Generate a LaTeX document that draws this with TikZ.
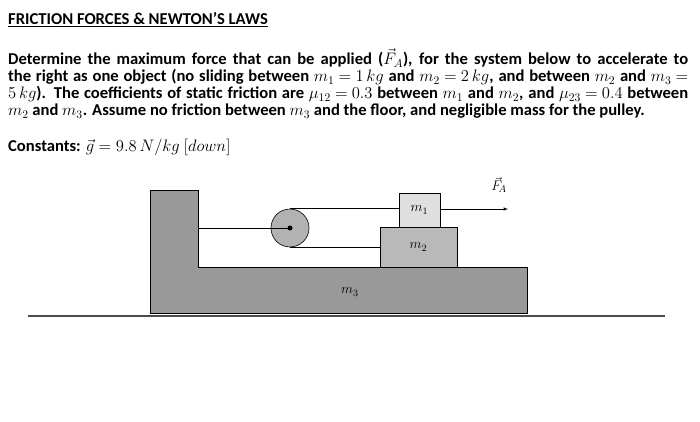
\documentclass[tikz,border=0pt]{standalone}
\usepackage{fix-cm}
\usepackage{fontspec}
\setmainfont{Carlito}
\begin{document}
\begin{tikzpicture}[x=1pt,y=-1pt,
  txt/.style={anchor=base west,inner sep=0pt,font=\fontsize{16.6}{18}\selectfont\bfseries},
  lbl/.style={font=\fontsize{14}{16}\selectfont},
  body/.style={draw=black,line width=0.6pt},
  rope/.style={draw=black,line width=0.5pt}]
\useasboundingbox (0,0) rectangle (700,422);
\node[txt] (title) at (8,25) {\underline{FRICTION FORCES \& NEWTON’S LAWS}};
\node[txt] (l1) at (8,65) {\makebox[680pt][s]{Determine the maximum force that can be applied ($\vec F_A$), for the system below to accelerate to}};
\node[txt] (l2) at (8,82) {\makebox[680pt][s]{the right as one object (no sliding between $m_1\!=\!1\,kg$ and $m_2\!=\!2\,kg$, and between $m_2$ and $m_3\!=$}};
\node[txt] (l3) at (8,99) {\makebox[680pt][s]{$5\,kg$). The coefficients of static friction are $\mu_{12}\!=\!0.3$ between $m_1$ and $m_2$, and $\mu_{23}\!=\!0.4$ between}};
\node[txt] (l4) at (8,116) {$m_2$ and $m_3$. Assume no friction between $m_3$ and the floor, and negligible mass for the pulley.};
\node[txt] (c) at (8,151) {Constants: $\vec g=9.8\,N/kg\ [down]$};
% floor
\draw[line width=2pt,gray!60!black] (28,316) coordinate (f1) -- (665,316) coordinate (f2);
% m3
\path[body,fill=gray!80] (150,190) -- (198,190) -- (198,267) -- (527,267) -- (527,313) -- (150,313) -- cycle;
\node[lbl] (m3) at (350,292) {$m_3$};
% blocks
\node[body,lbl,fill=gray!55,minimum width=77pt,minimum height=40pt,inner sep=0pt] (m2) at (418.5,247) {$m_2$};
\node[body,lbl,fill=gray!25,minimum width=41pt,minimum height=34pt,inner sep=0pt] (m1) at (419.5,210) {$m_1$};
% pulley
\node[body,circle,fill=gray!60,minimum size=38pt,inner sep=0pt] (p) at (290,228) {};
\fill (p.center) circle (2.5pt);
\coordinate (w) at (198,228);
\draw[rope] (w) -- (p.center);
\draw[rope] (p.north) -- (m1.west |- p.north);
\draw[rope] (p.south) -- (m2.west |- p.south);
\coordinate (fa) at (508,209);
\draw[rope,-latex] (m1.east |- fa) -- (fa);
\node[lbl] (fal) at (499,185) {$\vec F_{\!A}$};
\end{tikzpicture}
\end{document}
